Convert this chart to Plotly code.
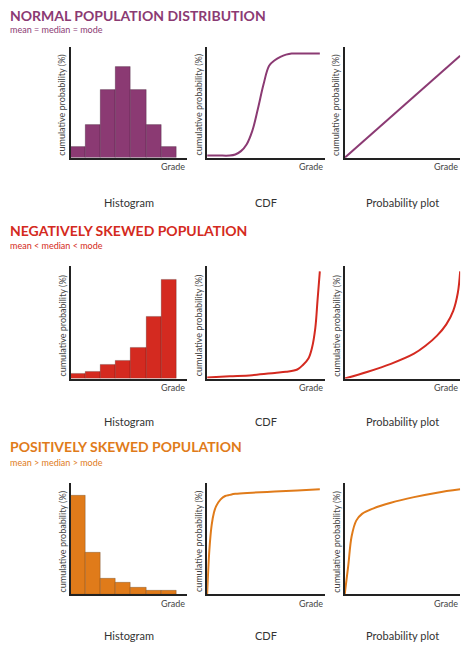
import plotly.graph_objects as go

W, H = 474, 655

# histogram bar heights (% of axis height), 7 bins
hist_normal = [10, 30, 61, 82, 61, 30, 10]
hist_negative = [4, 6, 12, 16, 27, 55, 88]
hist_positive = [88, 37, 14, 11, 6, 3, 3]

# CDF curves (x: fraction of grade axis, y: cumulative %)
cdf_x = [0, 0.1, 0.2, 0.25, 0.3, 0.35, 0.4, 0.45, 0.5, 0.55, 0.6, 0.65, 0.7, 0.75, 0.8, 0.85, 0.9, 0.95, 1.0]
cdf_normal = [2, 2, 2, 3, 6, 12, 24, 44, 66, 83, 88, 91, 93, 94, 94, 94, 94, 94, 94]
cdf_neg_x = [0, 0.2, 0.4, 0.6, 0.7, 0.8, 0.85, 0.9, 0.93, 0.96, 0.98, 1.0]
cdf_negative = [1, 2, 3, 5, 6, 8, 12, 18, 27, 45, 70, 95]
cdf_pos_x = [0, 0.02, 0.04, 0.06, 0.08, 0.12, 0.16, 0.2, 0.25, 0.4, 0.6, 0.8, 1.0]
cdf_positive = [0, 40, 62, 73, 79, 85, 88, 89, 90, 91, 92, 93, 94]

# probability plots
pp_x = [0, 1.0]
pp_normal = [0, 92]
pp_neg_x = [0, 0.2, 0.4, 0.6, 0.7, 0.8, 0.88, 0.94, 0.98, 1.0]
pp_negative = [0, 6, 13, 22, 29, 38, 48, 60, 76, 95]
pp_pos_x = [0, 0.03, 0.06, 0.1, 0.15, 0.25, 0.4, 0.6, 0.8, 1.0]
pp_positive = [0, 25, 52, 66, 72, 77, 82, 87, 91, 94]

rows = [
    dict(title="NORMAL POPULATION DISTRIBUTION", sub="mean = median = mode", color="#8b3a73",
         hist=hist_normal, cdf=(cdf_x, cdf_normal), pp=(pp_x, pp_normal),
         top=40, bottom=154, title_y=8, sub_y=22, lab_y=200),
    dict(title="NEGATIVELY SKEWED POPULATION", sub="mean < median < mode", color="#d42a20",
         hist=hist_negative, cdf=(cdf_neg_x, cdf_negative), pp=(pp_neg_x, pp_negative),
         top=265, bottom=381, title_y=229, sub_y=244, lab_y=425),
    dict(title="POSITIVELY SKEWED POPULATION", sub="mean > median > mode", color="#e07b1a",
         hist=hist_positive, cdf=(cdf_pos_x, cdf_positive), pp=(pp_pos_x, pp_positive),
         top=488, bottom=603, title_y=451, sub_y=467, lab_y=645),
]
cols = [(65, 186), (207, 330), (350, 470)]
col_names = ["Histogram", "CDF", "Probability plot"]

fig = go.Figure()
annotations = []
n = 0
for r in rows:
    annotations.append(dict(text="<b>" + r["title"] + "</b>", x=0, y=1 - r["title_y"] / H, xref="paper", yref="paper",
                            xanchor="left", yanchor="middle", showarrow=False,
                            font=dict(family="Lato", size=14, color=r["color"])))
    annotations.append(dict(text=r["sub"], x=0, y=1 - r["sub_y"] / H, xref="paper", yref="paper",
                            xanchor="left", yanchor="middle", showarrow=False,
                            font=dict(family="Lato", size=9, color=r["color"])))
    for c, (x0, x1) in enumerate(cols):
        n += 1
        ax = "" if n == 1 else str(n)
        xa, ya = "x" + ax, "y" + ax
        if c == 0:
            fig.add_trace(go.Bar(x=[i + 0.5 for i in range(7)], y=r["hist"], width=1,
                                 marker=dict(color=r["color"], line=dict(color="rgba(0,0,0,0.35)", width=0.6)),
                                 xaxis=xa, yaxis=ya, showlegend=False))
            xrange = [0, 7.7]
        else:
            xs, ys = r["cdf"] if c == 1 else r["pp"]
            fig.add_trace(go.Scatter(x=xs, y=ys, mode="lines", line=dict(color=r["color"], width=2, shape="spline"),
                                     xaxis=xa, yaxis=ya, showlegend=False))
            xrange = [0, 1.0 if c == 2 else 1.05]
        common = dict(showgrid=False, zeroline=False, showticklabels=False, ticks="",
                      showline=True, linecolor="#222", linewidth=1.5)
        fig.update_layout(**{
            "xaxis" + ax: dict(domain=[x0 / W, x1 / W], range=xrange, anchor=ya, **common),
            "yaxis" + ax: dict(domain=[1 - r["bottom"] / H, 1 - r["top"] / H], range=[0, 100], anchor=xa, **common),
        })
        annotations.append(dict(text="cumulative probability (%)", textangle=-90, x=(x0 - 1) / W,
                                y=1 - r["bottom"] / H, xref="paper", yref="paper", xanchor="right", yanchor="bottom",
                                showarrow=False, font=dict(family="Lato", size=9, color="#444")))
        annotations.append(dict(text="Grade", x=x1 / W, y=1 - (r["bottom"] + 9) / H, xref="paper",
                                yref="paper", xanchor="right", yanchor="middle", showarrow=False,
                                font=dict(family="Lato", size=9, color="#444")))
        annotations.append(dict(text=col_names[c], x=(x0 + x1) / 2 / W, y=1 - r["lab_y"] / H, xref="paper",
                                yref="paper", xanchor="center", yanchor="middle", showarrow=False,
                                font=dict(family="Lato", size=11, color="#333")))

# leave room for the page's default body margin so nothing gets clipped
fig.update_layout(width=W - 18, height=H - 18, margin=dict(l=0, r=0, t=0, b=0), plot_bgcolor="white",
                  paper_bgcolor="white", annotations=annotations, bargap=0)
fig.write_html("out.html")
